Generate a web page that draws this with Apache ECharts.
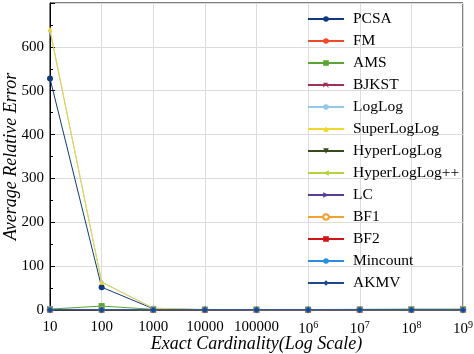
<!DOCTYPE html>
<html><head><meta charset="utf-8">
<script src="https://cdn.jsdelivr.net/npm/echarts@6/dist/echarts.min.js"></script>
<style>html,body{margin:0;padding:0;background:#fff}#c{width:474px;height:354px}</style>
</head><body><div id="c"></div>
<script>
var categories = ['10','100','1000','10000','100000','10^6','10^7','10^8','10^9'];
var seriesNames = ['PCSA','FM','AMS','BJKST','LogLog','SuperLogLog','HyperLogLog','HyperLogLog++','LC','BF1','BF2','Mincount','AKMV'];
var PCSA = [528, 52, 3, 0.5, 0.4, 0.3, 0.3, 0.3, 0.3];
var FM = [1.5, 1.2, 0.8, 0.5, 0.4, 0.3, 0.3, 0.3, 0.3];
var AMS = [2, 9, 1.5, 1, 1, 1, 1.5, 2, 2];
var BJKST = [0.8, 0.6, 0.4, 0.3, 0.3, 0.3, 0.3, 0.3, 0.3];
var LogLog = [636, 64, 4, 1, 0.5, 0.5, 0.5, 0.5, 0.5];
var SuperLogLog = [640, 63, 4, 1, 0.5, 0.5, 0.5, 0.5, 0.5];
var HyperLogLog = [1, 0.5, 0.4, 0.3, 0.3, 0.3, 0.3, 0.3, 0.3];
var HyperLogLogPP = [1, 0.5, 0.4, 0.3, 0.3, 0.3, 0.3, 0.3, 0.3];
var LC = [0.5, 0.4, 0.3, 0.3, 0.3, 0.3, 0.3, 0.3, 0.3];
var BF1 = [0.5, 0.4, 0.3, 0.3, 0.3, 0.3, 0.3, 0.3, 0.3];
var BF2 = [0.5, 0.4, 0.3, 0.3, 0.3, 0.3, 0.3, 0.3, 0.3];
var Mincount = [0.5, 0.4, 0.3, 0.3, 0.3, 0.3, 0.3, 0.3, 0.3];
var AKMV = [0.2, 0.2, 0.2, 0.2, 0.2, 0.2, 0.2, 0.2, 0.2];
var yTicks = {min: 0, max: 700, interval: 100};

var values = [PCSA, FM, AMS, BJKST, LogLog, SuperLogLog, HyperLogLog, HyperLogLogPP, LC, BF1, BF2, Mincount, AKMV];
var colors = ['#0d3b82','#ee4a2a','#5aa632','#a0305a','#92c8ee','#f2d62c','#374a1c','#b4d23c','#5a3c94','#f5a032','#d21414','#2a8ee0','#1a4a8e'];
var symbols = ['circle','circle','path://M-0.4,-5L0.4,-5L0.4,5L-0.4,5Z','path://M-4,-4L4,4M4,-4L-4,4L-3.3,-4.7L4.7,3.3L4,4L-4,-4Z','circle','triangle','path://M-5,-4L5,-4L0,5Z','path://M4,-5L4,5L-5,0Z','path://M-4,-5L-4,5L5,0Z','emptyCircle','rect','circle','diamond'];
var sizes = [6,4,6,6,4,5,5,5,5,5,5,6,6];

var font = 'Liberation Serif';
var chart = echarts.init(document.getElementById('c'), null, {renderer: 'canvas'});
var series = seriesNames.map(function (n, i) {
  return {
    name: n, type: 'line', data: values[i], symbol: symbols[i], symbolSize: sizes[i],
    showAllSymbol: true,
    lineStyle: {width: 1, color: colors[i]},
    itemStyle: {color: colors[i], borderColor: colors[i], borderWidth: symbols[i] === 'emptyCircle' ? 1.5 : 0},
    z: 2 + i
  };
});
chart.setOption({
  animation: false,
  backgroundColor: '#fff',
  color: colors,
  grid: {left: 50, right: 11, top: 3, bottom: 44, containLabel: false, outerBoundsMode: 'none',
    show: true, borderColor: '#000', borderWidth: 1, backgroundColor: 'transparent'},
  legend: {
    orient: 'vertical', left: 307, top: 10, padding: 0, itemGap: 4, itemWidth: 36, itemHeight: 7,
    textStyle: {fontFamily: font, fontSize: 15.5, color: '#000', padding: [0, 0, 0, 4], lineHeight: 18},
    data: seriesNames
  },
  xAxis: {
    type: 'category', data: categories, boundaryGap: false,
    name: 'Exact Cardinality(Log Scale)', nameLocation: 'middle', nameGap: 25, nameMoveOverlap: false,
    nameTextStyle: {fontFamily: font, fontSize: 18, fontStyle: 'italic', color: '#000'},
    axisLine: {lineStyle: {color: '#000', width: 1}},
    axisTick: {inside: true, length: 4, lineStyle: {color: '#000'}},
    axisLabel: {
      interval: 0, hideOverlap: false,
      fontFamily: font, fontSize: 15, color: '#000', margin: 10,
      formatter: function (v) { var p = v.split('^'); return p.length > 1 ? p[0] + '{sup|' + p[1] + '}' : v; },
      rich: {sup: {fontFamily: font, fontSize: 10, color: '#000', padding: [0, 0, 8, 0]}}
    },
    splitLine: {show: true, lineStyle: {color: '#dcdcdc', width: 1}}
  },
  yAxis: {
    type: 'value', min: yTicks.min, max: yTicks.max, interval: yTicks.interval,
    name: 'Average Relative Error', nameLocation: 'middle', nameGap: 30, nameMoveOverlap: false,
    nameTextStyle: {fontFamily: font, fontSize: 18, fontStyle: 'italic', color: '#000'},
    axisLine: {show: true, lineStyle: {color: '#000', width: 1}},
    axisTick: {show: true, inside: true, length: 5, lineStyle: {color: '#000'}},
    minorTick: {show: true, splitNumber: 2, length: 3, lineStyle: {color: '#000'}},
    axisLabel: {fontFamily: font, fontSize: 15, color: '#000', margin: 6,
      formatter: function (v) { return v === 700 ? '' : v; }},
    splitLine: {show: true, lineStyle: {color: '#dcdcdc', width: 1}}
  },
  series: series
});
</script></body></html>
